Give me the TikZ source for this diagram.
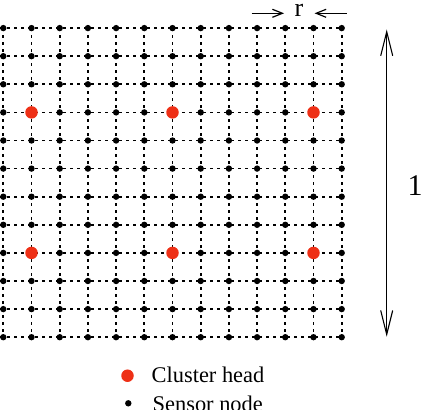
\documentclass[tikz,border=0pt]{standalone}
\usepackage{fontspec}
\setmainfont{Liberation Serif}
\usetikzlibrary{arrows.meta}
\definecolor{clusterred}{RGB}{238,48,22}
\tikzset{
  gridline/.style={line width=1.7pt, dash pattern=on 3.2pt off 3.8pt},
  sensor/.style={circle, fill=black, inner sep=0pt, minimum size=6.4pt},
  chead/.style={circle, fill=clusterred, inner sep=0pt, minimum size=12.5pt},
  bigarrow/.style={line width=1.1pt, {Straight Barb[length=24pt,width=12pt]}-{Straight Barb[length=24pt,width=12pt]}},
  smallarrow/.style={line width=1.2pt, -{Straight Barb[length=10pt,width=8pt]}},
  lbl/.style={inner sep=0pt}
}
\begin{document}
\begin{tikzpicture}[x=1pt,y=-1pt]
\useasboundingbox (0,0) rectangle (425,409);
% grid coordinates
\foreach \i in {0,...,12}{
  \foreach \j in {0,...,11}{
    \coordinate (p-\i-\j) at ({3.3+28.2*\i},{28.1+28.1*\j});
  }
}
\coordinate (lft) at (0,0);
% horizontal lines
\foreach \j in {0,...,11}{
  \draw[gridline] (lft |- p-0-\j) -- (p-12-\j);
}
% vertical lines
\foreach \i in {0,...,12}{
  \draw[gridline] (p-\i-0) -- (p-\i-11);
}
% sensor nodes
\foreach \i in {0,...,12}{
  \foreach \j in {0,...,11}{
    \node[sensor] (s-\i-\j) at (p-\i-\j) {};
  }
}
% cluster heads
\foreach \i/\j [count=\k] in {1/3,6/3,11/3,1/8,6/8,11/8}{
  \node[chead] (ch-\k) at (p-\i-\j) {};
}
% r annotation
\node[lbl, font=\fontsize{26}{26}\selectfont] (r) at (299,10.5) {r};
\coordinate (ra0) at (251.5,13.3);
\coordinate (ra1) at (284,13.3);
\coordinate (rb0) at (346.5,13.3);
\coordinate (rb1) at (314.5,13.3);
\draw[smallarrow] (ra0) -- (ra1);
\draw[smallarrow] (rb0) -- (rb1);
% side length arrow
\coordinate (vt) at (386.7,29.5);
\coordinate (vb) at (386.7,336.7);
\draw[bigarrow] (vt) -- (vb);
\node[lbl, font=\fontsize{30}{30}\selectfont] (one) at (415,186) {1};
% legend
\node[chead] (lgch) at (127.5,375.7) {};
\node[sensor] (lgs) at (128.3,403.3) {};
\node[lbl, anchor=base west, font=\fontsize{22.4}{22.4}\selectfont] (lt1) at (151.5,382.7) {Cluster head};
\node[lbl, anchor=base west, font=\fontsize{22.4}{22.4}\selectfont] (lt2) at (152.5,411.5) {Sensor node};
\end{tikzpicture}
\end{document}
